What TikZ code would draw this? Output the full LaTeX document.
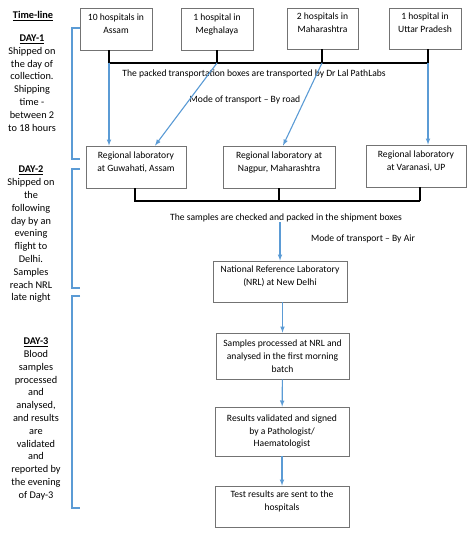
\documentclass[tikz,border=0pt]{standalone}
\usepackage{fontspec}
\setmainfont{Carlito}
\usepackage{tikz}
\usetikzlibrary{positioning, calc, arrows}
\definecolor{wordblue}{RGB}{91,155,213}

\begin{document}
\begin{tikzpicture}[x=1pt, y=-1pt,
	every node/.style = {font=\fontsize{9.6}{12.7}\selectfont, align=center, inner sep=0pt},
	daytext/.style = {font=\fontsize{10.3}{12.8}\selectfont},
	box/.style = {draw=black!55, line width=0.8pt, minimum width=72pt, minimum height=42pt},
	lifted/.style = {text depth=11pt},
	daybrace/.style = {draw=wordblue, line width=1.2pt},
	joint/.style = {draw=black, line width=1.3pt},
	flow/.style = {draw=wordblue, line width=1.1pt, -latex}]
	\useasboundingbox (0,0) rectangle (474,535);

	% time-line column
	\node[daytext] (timeline) at (33,16) {\underline{\textbf{Time-line}}};
	\node[daytext] (day1) at (32,83) {\underline{\textbf{DAY-1}}\\Shipped on\\the day of\\collection.\\Shipping\\time -\\between 2\\to 18 hours};
	\node[daytext] (day2) at (31,234.5) {\underline{\textbf{DAY-2}}\\Shipped on\\the\\following\\day by an\\evening\\flight to\\Delhi.\\Samples\\reach NRL\\late night};
	\node[daytext] (day3) at (36,419) {\underline{\textbf{DAY-3}}\\Blood\\samples\\processed\\and\\analysed,\\and results\\are\\validated\\and\\reported by\\the evening\\of Day-3};
	\draw[daybrace] (80,28) -- (72,28) -- (72,159) -- (80,159);
	\draw[daybrace] (80,169) -- (72,169) -- (72,288) -- (80,288);
	\draw[daybrace] (80,296) -- (72,296) -- (72,508) -- (80,508);

	% hospitals
	\node[box, lifted] (assam) at (116,29) {10 hospitals in\\Assam};
	\node[box, lifted] (meghalaya) at (217,29) {1 hospital in\\Meghalaya};
	\node[box, lifted, minimum width=71pt, minimum height=41pt] (maharashtra) at (322.5,28.5) {2 hospitals in\\Maharashtra};
	\node[box, lifted, minimum height=41pt] (uttar) at (425,28.5) {1 hospital in\\Uttar Pradesh};

	\coordinate (j1) at (109,63);
	\coordinate (j2) at (217,63);
	\coordinate (j3) at (322,63);
	\coordinate (j4) at (428,63);
	\draw[joint] (assam.south -| j1) -- (j1) -- (j4);
	\draw[joint] (meghalaya.south) -- (j2);
	\draw[joint] (maharashtra.south -| j3) -- (j3);
	\draw[joint] (uttar.south -| j4) -- (j4);

	\node (packed) at (254,74) {The packed transportation boxes are transported by Dr Lal PathLabs};
	\node (road) at (245,100) {Mode of transport -- By road};

	% regional laboratories
	\node[box, lifted, minimum width=100pt] (guwahati) at (136,167) {Regional laboratory\\at Guwahati, Assam};
	\node[box, lifted, minimum width=112pt] (nagpur) at (279,167) {Regional laboratory at\\Nagpur, Maharashtra};
	\node[box, lifted, minimum width=100pt] (varanasi) at (416,166) {Regional laboratory\\at Varanasi, UP};

	\draw[flow] (j1) -- (guwahati.north -| j1);
	\draw[flow] (j2) -- ([xshift=19pt]guwahati.north);
	\draw[flow] (j3) -- ([xshift=4pt]nagpur.north);
	\draw[flow] (j4) -- (varanasi.north -| j4);

	\coordinate (k1) at (135,201);
	\coordinate (k2) at (279,201);
	\coordinate (k3) at (420,201);
	\draw[joint] (guwahati.south -| k1) -- (k1) -- (k3);
	\draw[joint] (nagpur.south) -- (k2);
	\draw[joint] (varanasi.south -| k3) -- (k3);

	\node (checked) at (286,218) {The samples are checked and packed in the shipment boxes};
	\node (air) at (363,239) {Mode of transport -- By Air};

	% national reference laboratory
	\node[box, lifted, minimum width=134pt, minimum height=41pt] (nrl) at (280,281.5) {National Reference Laboratory\\(NRL) at New Delhi};
	\node[box, minimum width=133pt, minimum height=46pt] (processed) at (282.5,356) {Samples processed at NRL and\\analysed in the first morning\\batch};
	\node[box, minimum width=134pt, minimum height=49pt] (validated) at (282,431.5) {Results validated and signed\\by a Pathologist/\\Haematologist};
	\node[box, lifted, minimum width=134pt, minimum height=41pt] (sent) at (282,506.5) {Test results are sent to the\\hospitals};

	\draw[flow] (checked.south -| nrl) -- (nrl.north);
	\draw[flow] (nrl.south -| processed) -- (processed.north);
	\draw[flow] (processed) -- (validated);
	\draw[flow] (validated) -- (sent);
\end{tikzpicture}
\end{document}
